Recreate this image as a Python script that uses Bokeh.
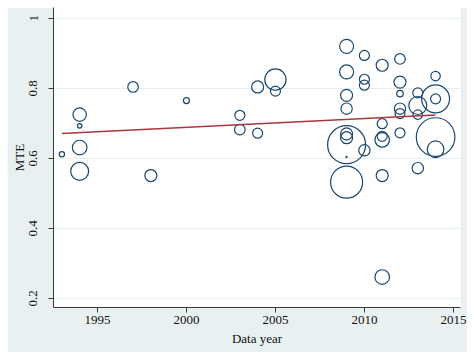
import math
from bokeh.plotting import figure
from bokeh.layouts import row, column
from bokeh.models import ColumnDataSource, FixedTicker, Range1d, Spacer
from bokeh.embed import file_html
from bokeh.resources import INLINE

# ---- data ----
years = [1993,
         1994, 1994, 1994, 1994,
         1997, 1998, 2000,
         2003, 2003, 2004, 2004, 2005, 2005,
         2009, 2009, 2009, 2009, 2009, 2009, 2009, 2009, 2009,
         2010, 2010, 2010, 2010,
         2011, 2011, 2011, 2011, 2011, 2011,
         2012, 2012, 2012, 2012, 2012, 2012,
         2013, 2013, 2013, 2013,
         2014, 2014, 2014, 2014, 2014]
mte = [0.612,
       0.725, 0.693, 0.631, 0.563,
       0.804, 0.551, 0.765,
       0.723, 0.682, 0.804, 0.672, 0.825, 0.792,
       0.920, 0.847, 0.780, 0.742, 0.670, 0.659, 0.639, 0.532, 0.604,
       0.894, 0.826, 0.809, 0.623,
       0.866, 0.699, 0.663, 0.653, 0.551, 0.261,
       0.884, 0.818, 0.785, 0.742, 0.728, 0.673,
       0.787, 0.751, 0.725, 0.572,
       0.835, 0.770, 0.770, 0.661, 0.626]
weight = [7,
          45, 5, 53, 81,
          28, 36, 9,
          25, 28, 36, 25, 114, 25,
          49, 49, 36, 32, 36, 36, 361, 256, 0.3,
          25, 25, 25, 32,
          36, 25, 25, 53, 36, 53,
          28, 36, 11, 32, 25, 25,
          25, 81, 22, 32,
          22, 196, 25, 372, 69]

fit_years = [1993, 2014]
fit_mte = [0.671, 0.724]

xticks = [1995, 2000, 2005, 2010, 2015]
yticks = [0.2, 0.4, 0.6, 0.8, 1.0]
ytick_labels = ["0.2", "0.4", "0.6", "0.8", "1"]

x_title = "Data year"
y_title = "MTE"

# ---- styling ----
FONT = "Liberation Serif"
BG = "#e8f0f2"
NAVY = "#1a476f"
MAROON = "#a8383e"
AXIS = "#3a3a3a"

sizes = [2 * math.sqrt(w) for w in weight]
src = ColumnDataSource(dict(x=years, y=mte, s=sizes))

p = figure(width=460, height=345, output_backend="svg", toolbar_location=None,
           x_range=Range1d(1992.53, 2015.4), y_range=Range1d(0.174, 1.031),
           min_border_left=46, min_border_right=7, min_border_top=0,
           min_border_bottom=45)
p.border_fill_color = BG
p.background_fill_color = "white"
p.outline_line_color = None

p.scatter("x", "y", size="s", source=src, fill_color=None,
          line_color=NAVY, line_width=1.2)
p.line(fit_years, fit_mte, line_color=MAROON, line_width=1.4)

# grid
p.xgrid.grid_line_color = None
p.ygrid.ticker = FixedTicker(ticks=yticks)
p.ygrid.grid_line_color = "#e6eef0"
p.ygrid.grid_line_width = 1

# x axis
xa = p.xaxis[0]
xa.ticker = FixedTicker(ticks=xticks)
xa.axis_label = x_title
# y axis
ya = p.yaxis[0]
ya.ticker = FixedTicker(ticks=yticks)
ya.major_label_overrides = {t: l for t, l in zip(yticks, ytick_labels)}
ya.major_label_orientation = "vertical"
ya.axis_label = y_title

for ax in (xa, ya):
    ax.axis_line_color = AXIS
    ax.axis_line_width = 1
    ax.major_tick_line_color = AXIS
    ax.major_tick_out = 5
    ax.major_tick_in = 0
    ax.minor_tick_line_color = None
    ax.major_label_text_font = FONT
    ax.major_label_text_font_size = "13px"
    ax.major_label_text_color = "#111111"
    ax.axis_label_text_font = FONT
    ax.axis_label_text_font_size = "13px"
    ax.axis_label_text_font_style = "normal"
    ax.axis_label_text_color = "#111111"

xa.major_label_standoff = 3
xa.axis_label_standoff = 4
ya.major_label_standoff = 11
ya.axis_label_standoff = 0

layout = row(Spacer(width=7), column(Spacer(height=7), p))
open("out.html", "w").write(file_html(layout, INLINE))
